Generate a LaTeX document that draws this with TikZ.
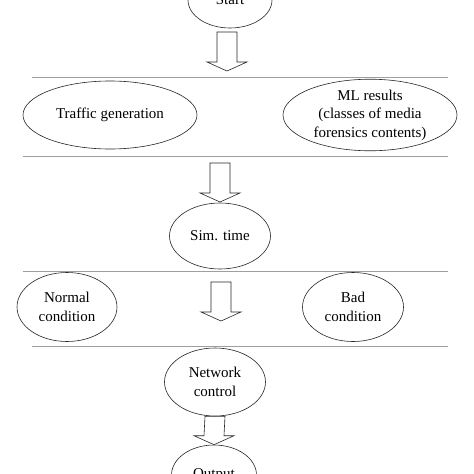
\documentclass[tikz,border=0pt]{standalone}
\usepackage{fontspec}
\setmainfont{Liberation Serif}
\usetikzlibrary{shapes.geometric}
\usetikzlibrary{positioning}

% hollow block arrow between two points (top of shaft, tip)
\newcommand{\blockarrow}[2]{%
	\draw[blockarr] ([xshift=-10pt]#1) -- ([xshift=-10pt,yshift=9pt]#2)
		-- ([xshift=-20pt,yshift=9pt]#2) -- (#2)
		-- ([xshift=20pt,yshift=9pt]#2) -- ([xshift=10pt,yshift=9pt]#2)
		-- ([xshift=10pt]#1) -- cycle;}

\begin{document}
\begin{tikzpicture}[
	x=1pt, y=-1pt,
	font=\fontsize{15}{18.5}\selectfont,
	oval/.style={
		draw,
		ellipse,
		inner sep=0pt,
		line width=0.6pt,
		draw=black!85,
		align=center,
	},
	sepline/.style={
		draw=gray!75,
		line width=1pt,
	},
	blockarr/.style={
		draw=black!85,
		line width=0.6pt,
		fill=white,
	},
]
\fill[white] (0,0) rectangle (474,474);
\useasboundingbox (0,0) rectangle (474,474);

\node [oval, minimum width=84, minimum height=56] (start) at (230,0) {Start};
%
\node [oval, minimum width=174, minimum height=68] (traffic) at (110,115) {Traffic generation};
\node [oval, minimum width=174, minimum height=68] (mlres) at (370,115) {ML results\\(classes of media\\forensics contents)};
%
\node [oval, minimum width=101, minimum height=66] (simtime) at (220,236) {Sim. time};
%
\node [oval, minimum width=100, minimum height=69] (normal) at (67,307) {Normal\\condition};
\node [oval, minimum width=101, minimum height=69] (bad) at (353,307) {Bad\\condition};
%
\node [oval, minimum width=101, minimum height=68] (netctrl) at (215,382) {Network\\control};
\node [oval, minimum width=85, minimum height=60] (output) at (214,475) {Output};

% separating rules
\coordinate (l1w) at (32,77);  \coordinate (l1e) at (448,77);
\coordinate (l2w) at (23,156); \coordinate (l2e) at (448,156);
\coordinate (l3w) at (23,271); \coordinate (l3e) at (448,271);
\coordinate (l4w) at (32,346); \coordinate (l4e) at (448,346);
\draw[sepline] (l1w) -- (l1e);
\draw[sepline] (l2w) -- (l2e);
\draw[sepline] (l3w) -- (l3e);
\draw[sepline] (l4w) -- (l4e);

% block arrows
\coordinate (a1top) at (227,32);  \coordinate (a1tip) at (227,71);
\coordinate (a2top) at (220,163); \coordinate (a2tip) at (220,202);
\coordinate (a3top) at (221,282); \coordinate (a3tip) at (221,321);
\blockarrow{a1top}{a1tip}
\blockarrow{a2top}{a2tip}
\blockarrow{a3top}{a3tip}
\blockarrow{netctrl.south}{output.north}
\end{tikzpicture}
\end{document}
